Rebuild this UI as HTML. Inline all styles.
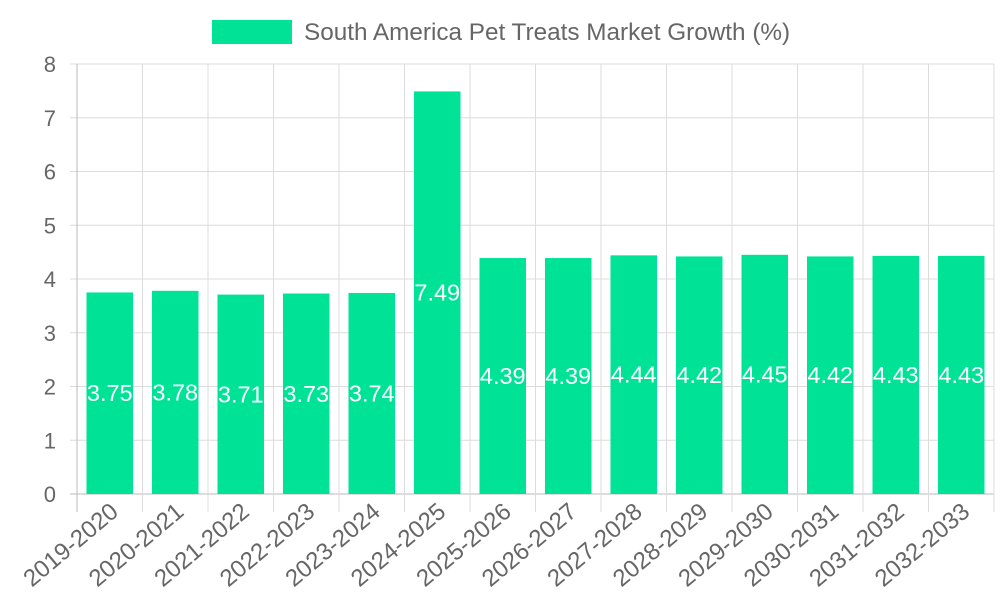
<!DOCTYPE html>
<html><head><meta charset="utf-8"><style>
body{margin:0;background:#fff;}
svg{display:block;font-family:"Liberation Sans",sans-serif;}
</style></head><body>
<svg id="chart" width="1000" height="600">
<g>
<rect x="212" y="20" width="80" height="24" fill="#00e396"></rect>
<text x="304" y="40" font-size="24.3" fill="#666">South America Pet Treats Market Growth (%)</text>
</g>
<g id="grid"></g><g id="bars"></g><g id="axes"></g>
</svg>
<script>
const categories=["2019-2020","2020-2021","2021-2022","2022-2023","2023-2024","2024-2025","2025-2026","2026-2027","2027-2028","2028-2029","2029-2030","2030-2031","2031-2032","2032-2033"];
const values=[3.75,3.78,3.71,3.73,3.74,7.49,4.39,4.39,4.44,4.42,4.45,4.42,4.43,4.43];
const yTicks=[0,1,2,3,4,5,6,7,8];
const NS="http://www.w3.org/2000/svg";
const L=77,R=994,T=64,B=494,yMax=8;
const step=(R-L)/categories.length;
const y=v=>B-(v/yMax)*(B-T);
const x=i=>L+i*step;
function mk(tag,attrs,parent){const e=document.createElementNS(NS,tag);for(const k in attrs)e.setAttribute(k,attrs[k]);parent.appendChild(e);return e;}
const grid=document.getElementById('grid'),bars=document.getElementById('bars'),axes=document.getElementById('axes');
yTicks.forEach(t=>{
 const g=mk('line',{x1:70,x2:R,y1:y(t),y2:y(t),stroke:t===0?'#bbb':'#dcdcdc','stroke-width':1},grid);
 
 
 const lb=mk('text',{x:56,y:y(t)+8,'text-anchor':'end','font-size':22,fill:'#666'},axes);
 lb.textContent=t;
 
 
});
for(let i=0;i<=categories.length;i++){
 const g=mk('line',{x1:x(i),x2:x(i),y1:T,y2:B+18,stroke:i===0?'#bbb':'#dcdcdc','stroke-width':1},grid);
 
 
}
categories.forEach((c,i)=>{
 const bw=step*0.71,cx=x(i)+step/2,v=values[i];
 const r=mk('rect',{x:cx-bw/2,y:y(v),width:bw,height:B-y(v),fill:'#00e396'},bars);
 
 
 const t=mk('text',{x:cx,y:(y(v)+B)/2+8,'text-anchor':'middle','font-size':23.5,fill:'#fff'},bars);
 t.textContent=v.toFixed(2);
 
 
 const lx=cx+10,ly=B+20;
 const xl=mk('text',{x:lx,y:ly,'text-anchor':'end','font-size':24,fill:'#666',transform:`rotate(-40 ${lx} ${ly})`},axes);
 xl.textContent=c;
 
 
});
</script>
</body></html>
